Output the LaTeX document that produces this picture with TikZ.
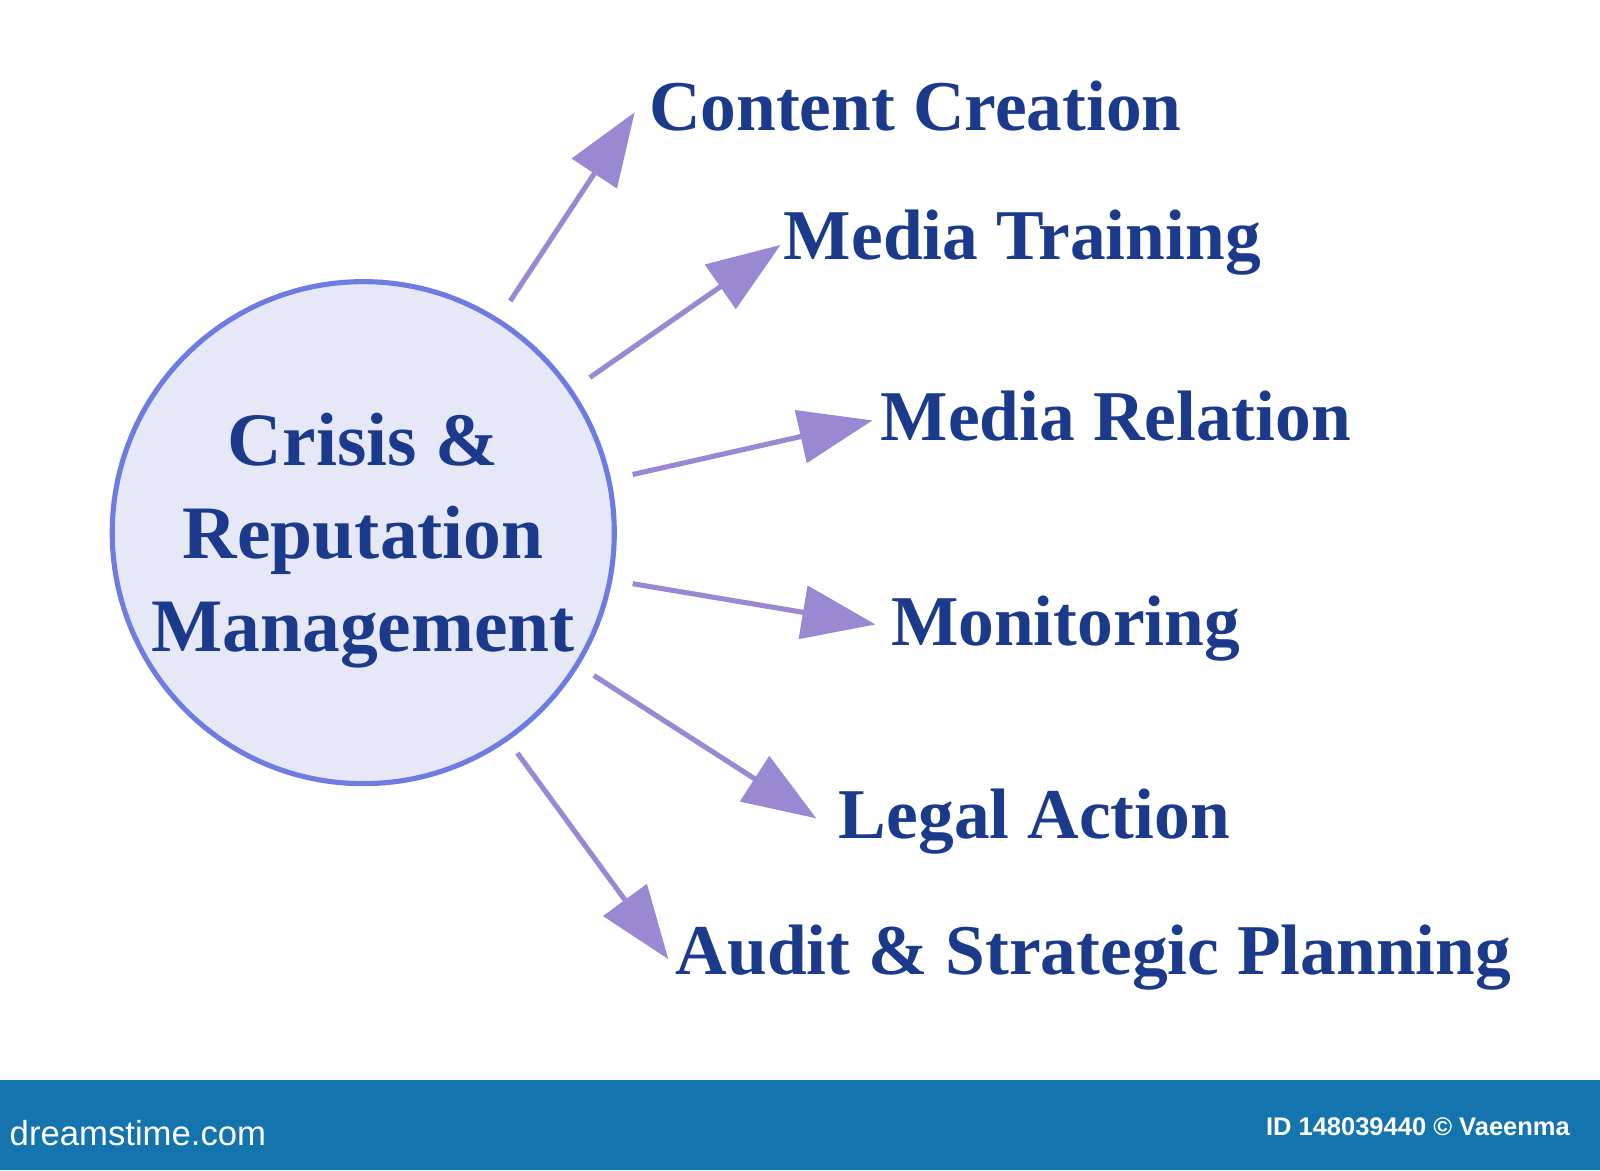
\documentclass[tikz,border=0pt]{standalone}
\usepackage{fontspec}
\setmainfont{Liberation Serif}
\setsansfont{Liberation Sans}
\usetikzlibrary{arrows.meta}
\definecolor{txt}{HTML}{1B3A8C}
\definecolor{arr}{HTML}{9A88D2}
\definecolor{ring}{HTML}{6E7CE2}
\definecolor{cfill}{HTML}{E6E8F8}
\definecolor{bar}{HTML}{1475AE}
\tikzset{lab/.style={anchor=west,text=txt,font=\fontsize{70}{76}\selectfont\bfseries,inner sep=0pt},
 arrw/.style={draw=arr,line width=5pt,-{Triangle[length=72pt,width=52pt]}}}
\begin{document}
\begin{tikzpicture}[x=1pt,y=-1pt]
\useasboundingbox (0,0) rectangle (1568,1147);
\fill[white] (0,0) rectangle (1568,1147);
\fill[bar] (0,1058) rectangle (1568,1147);
\node[anchor=west,text=white,font=\sffamily\fontsize{34}{36}\selectfont] (dt) at (6,1110) {dreamstime.com};
\node[anchor=east,text=white,font=\sffamily\bfseries\fontsize{25}{28}\selectfont] (id) at (1542,1104) {ID 148039440 © Vaeenma};
\node[circle,draw=ring,line width=5pt,fill=cfill,minimum size=492pt,inner sep=0pt] (c) at (356,522) {};
\node[text=txt,font=\fontsize{74}{91}\selectfont\bfseries,align=center] (ct) at (356,530) {Crisis \&\\Reputation\\Management};
\node[lab] (l1) at (636,104) {Content Creation};
\node[lab] (l2) at (768,238) {Media Training};
\node[lab] (l3) at (863,408) {Media Relation};
\node[lab] (l4) at (873,616) {Monitoring};
\node[lab] (l5) at (822,805) {Legal Action};
\node[lab] (l6) at (662,938) {Audit \& Strategic Planning};
\coordinate (s1) at (500,295); \coordinate (e1) at (622,110);
\coordinate (s2) at (578,370); \coordinate (e2) at (765,240);
\coordinate (s3) at (620,465); \coordinate (e3) at (855,412);
\coordinate (s4) at (620,572); \coordinate (e4) at (858,612);
\coordinate (s5) at (582,662); \coordinate (e5) at (800,802);
\coordinate (s6) at (507,738); \coordinate (e6) at (655,940);
\foreach \i in {1,...,6} \draw[arrw] (s\i) -- (e\i);
\end{tikzpicture}
\end{document}
